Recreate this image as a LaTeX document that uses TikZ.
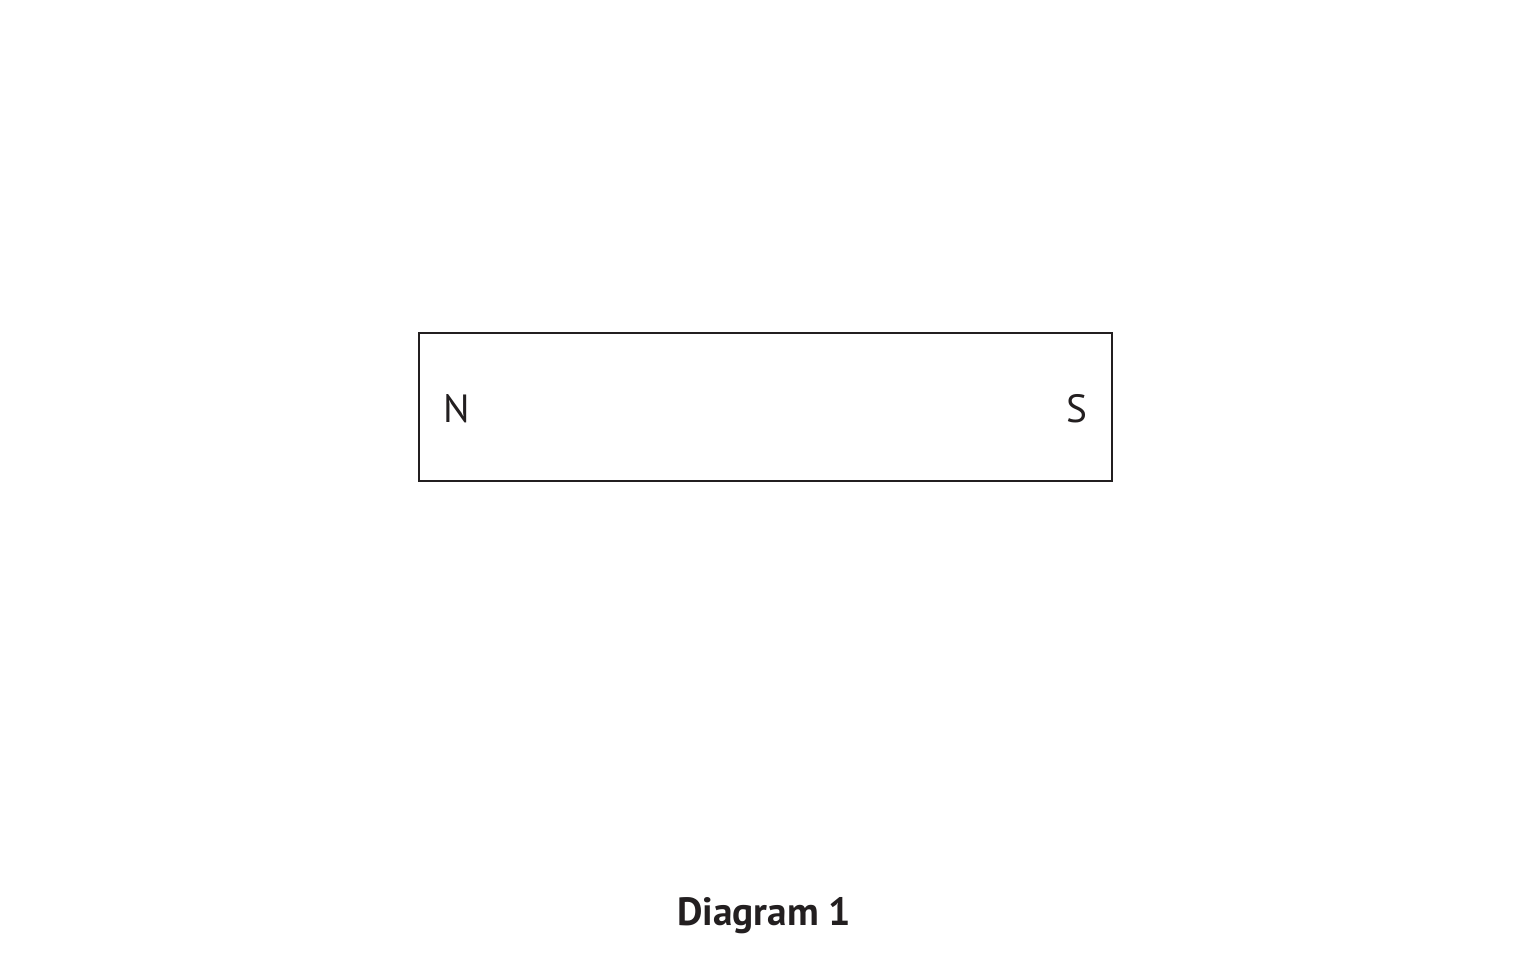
\documentclass[tikz,border=0pt]{standalone}
\usepackage{fontspec}
\setmainfont{PT Sans}
\definecolor{ink}{HTML}{231F20}
\begin{document}
\begin{tikzpicture}[pole/.style={font=\fontsize{11.2}{13}\selectfont, text=ink, inner sep=0pt, anchor=base}]
		\useasboundingbox (0,0) rectangle (15.36,9.64);
		%magnet
		\node[draw=ink, line width=0.6pt, minimum width=6.93cm, minimum height=1.48cm, inner sep=0pt] (magnet) at (7.655,5.57) {};
		\node[pole] (north) at (4.57,5.41) {N};
		\node[pole] (south) at (10.77,5.41) {S};
		%caption
		\node[font=\bfseries\fontsize{11.2}{13}\selectfont, text=ink, anchor=base] (caption) at (7.64,0.39) {Diagram 1};
\end{tikzpicture}
\end{document}
